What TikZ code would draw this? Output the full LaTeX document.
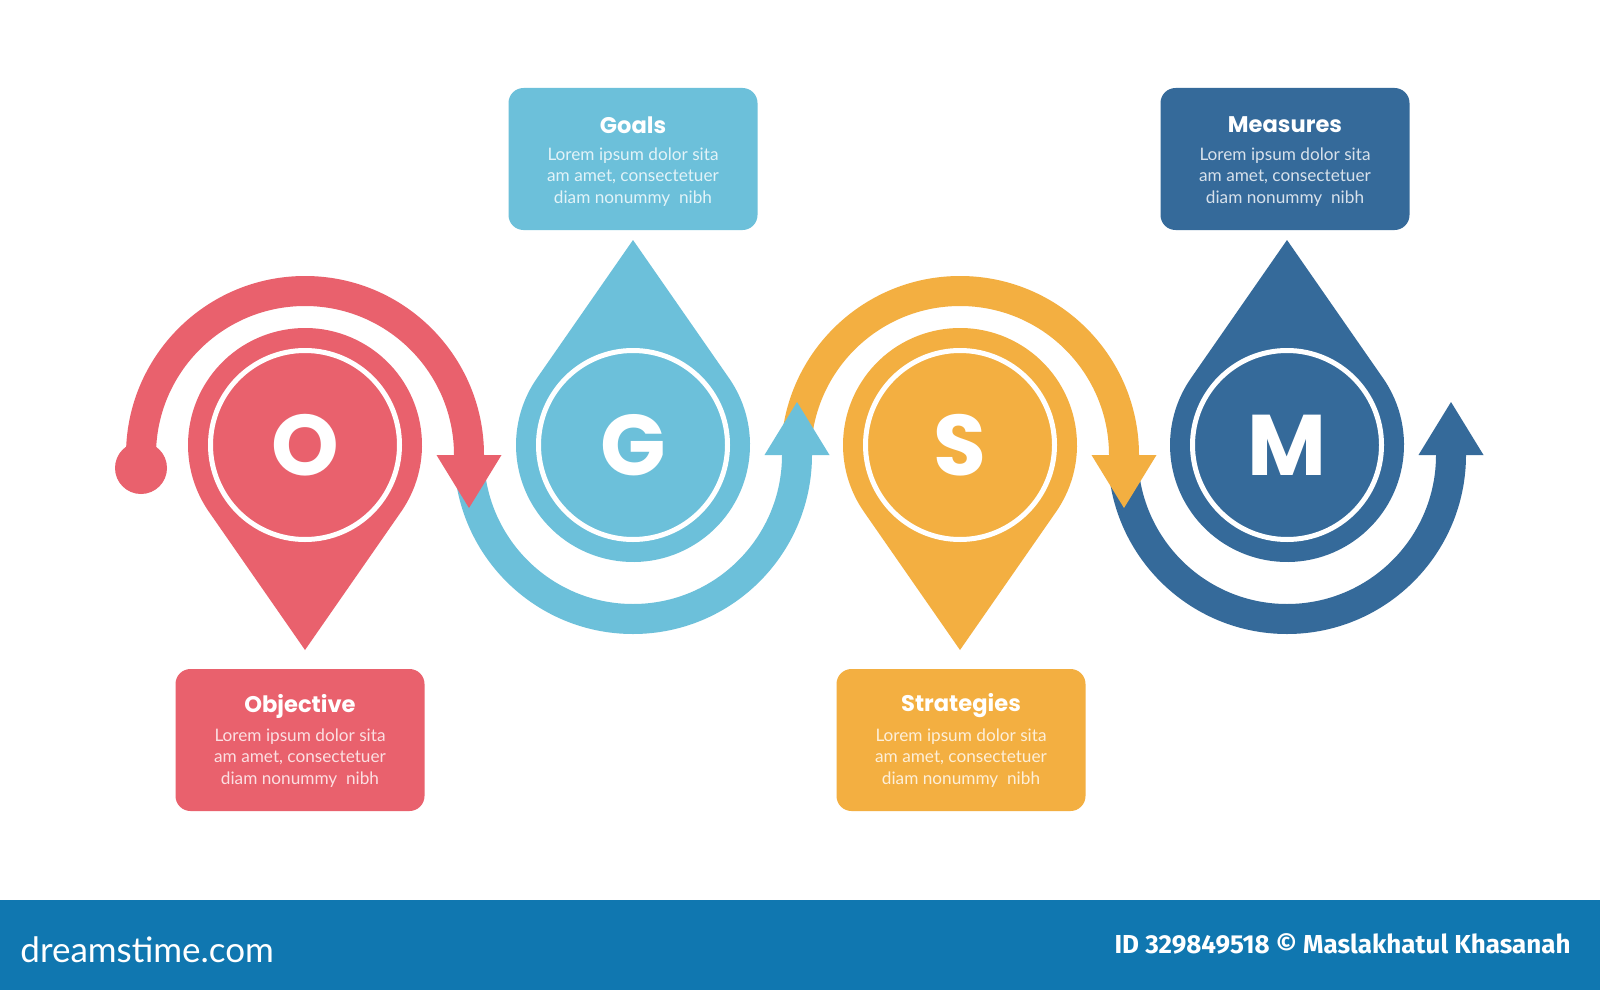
\documentclass[tikz,border=0pt]{standalone}
\usepackage{fontspec}
\usepackage{tikz}

\newfontfamily\headfont{Poppins}
\newfontfamily\bodyfont{Lato}
\newfontfamily\barfont{Fira Sans}

\definecolor{ogsmred}{HTML}{E9616D}
\definecolor{ogsmcyan}{HTML}{6CC0DA}
\definecolor{ogsmorange}{HTML}{F3AF41}
\definecolor{ogsmnavy}{HTML}{356A9A}
\definecolor{barblue}{HTML}{1077B0}

\begin{document}
\begin{tikzpicture}[x=0.5pt, y=0.5pt, yscale=-1,
  band/.style={line width=15pt},
  letter disc/.style={circle, draw=white, line width=2.5pt, minimum size=94.5pt, inner sep=0pt,
    text=white, font=\headfont\bfseries\fontsize{43}{43}\selectfont},
  info box/.style={rounded corners=7.5pt, minimum width=124.5pt, minimum height=71pt, inner sep=0pt},
  box title/.style={text=white, inner sep=0pt, font=\headfont\bfseries\fontsize{11.3}{12}\selectfont},
  box body/.style={align=center, inner sep=0pt, font=\bodyfont\fontsize{8.6}{10.75}\selectfont}]

\fill[white] (0,0) rectangle (1600,990);
\useasboundingbox (0,0) rectangle (1600,990);

% arcs, last one first so every arrow head lies over the next band
\foreach \cx/\col/\dir in {1287/ogsmnavy/-1, 960/ogsmorange/1, 633/ogsmcyan/-1, 305/ogsmred/1} {
  \draw[band, \col] (\cx-164,455) arc[start angle=180, end angle=180+180*\dir, radius=82pt];
  \fill[\col] (\cx+131.5,455) -- (\cx+196.5,455) -- (\cx+164,455+53*\dir) -- cycle;
}
\draw[band, ogsmred] (141,454) -- (141,468);
\fill[ogsmred] (141,468) circle[radius=13pt];

% pins and drops
\foreach \cx/\col/\dir/\l [count=\i] in {305/ogsmred/1/O, 633/ogsmcyan/-1/G, 960/ogsmorange/1/S, 1287/ogsmnavy/-1/M} {
  \fill[\col] (\cx,445) ++({34.8*\dir}:58.5pt) arc[start angle=34.8*\dir, end angle=-214.8*\dir, radius=58.5pt]
    -- (\cx,445+205*\dir) -- cycle;
  \node[letter disc] (disc-\i) at (\cx,445) {\l};
}

% text boxes
\foreach \bx/\top/\col/\t [count=\i] in {300/669/ogsmred/Objective, 633/88/ogsmcyan/Goals, 961/669/ogsmorange/Strategies, 1285/88/ogsmnavy/Measures} {
  \node[info box, fill=\col] (box-\i) at (\bx,\top+71) {};
  \node[box title] (title-\i) at (\bx,\top+37) {\t};
  \node[box body, text=white!80!\col] (body-\i) at (\bx,\top+89)
    {Lorem ipsum dolor sita\\am amet, consectetuer\\diam nonummy\ \ nibh};
}

% bottom bar
\fill[barblue] (0,900) rectangle (1600,990);
\node[anchor=base west, inner sep=0pt, text=white, font=\bodyfont\fontsize{17.5}{18}\selectfont]
  (site) at (20,962) {dreamstime.com};
\node[anchor=base east, inner sep=0pt, text=white, font=\barfont\bfseries\fontsize{13}{14}\selectfont]
  (credit) at (1571,953) {ID 329849518 © Maslakhatul Khasanah};
\end{tikzpicture}
\end{document}
